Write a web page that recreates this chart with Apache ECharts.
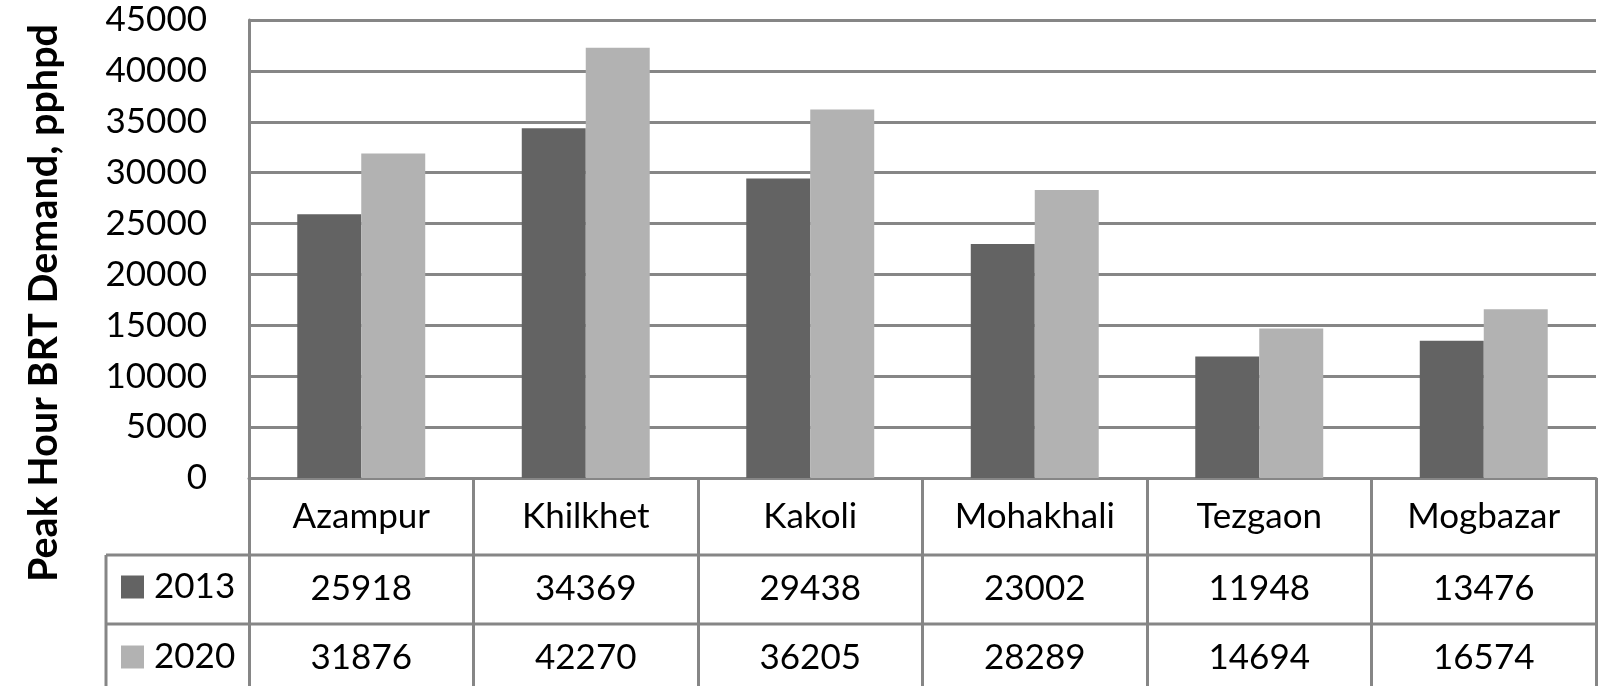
<!DOCTYPE html>
<html>
<head>
<meta charset="utf-8">
<title>Peak Hour BRT Demand</title>
<script src="https://cdn.jsdelivr.net/npm/echarts@6/dist/echarts.min.js"></script>
<style>
  html, body { margin: 0; padding: 0; background: #fff; }
  #chart { width: 1624px; height: 686px; }
</style>
</head>
<body>
<div id="chart"></div>
<script>
// data
const categories = ['Azampur', 'Khilkhet', 'Kakoli', 'Mohakhali', 'Tezgaon', 'Mogbazar'];
const years = ['2013', '2020'];
const demand2013 = [25918, 34369, 29438, 23002, 11948, 13476];
const demand2020 = [31876, 42270, 36205, 28289, 14694, 16574];
const yMin = 0, yMax = 45000, yStep = 5000;
const yTitle = 'Peak Hour BRT Demand, pphpd';

const FONT = 'Lato';
const LINE = '#868686';
const colors = ['#636363', '#b2b2b2'];

// data table layout (below the plot)
const tableLeft = 106;
const rowLines = [555, 624];      // top of 2013 row, top of 2020 row
const rowCenters = [589, 658];

const chart = echarts.init(document.getElementById('chart'));

chart.setOption({
  animation: false,
  textStyle: { fontFamily: FONT },
  grid: { left: 249, right: 28, top: 20, bottom: 208 },
  legend: {
    orient: 'vertical',
    left: 121,
    top: 567,
    padding: 0,
    itemGap: 30,
    itemWidth: 23,
    itemHeight: 23,
    icon: 'rect',
    data: years,
    textStyle: { fontFamily: FONT, fontSize: 35, lineHeight: 40, color: '#000', padding: [0, 0, 0, 5] }
  },
  xAxis: {
    type: 'category',
    data: categories,
    axisLine: { lineStyle: { color: LINE, width: 3 } },
    axisTick: { show: true, interval: 0, length: 210, lineStyle: { color: LINE, width: 3 } },
    axisLabel: { interval: 0, margin: 19, fontSize: 35, lineHeight: 40, color: '#000', fontFamily: FONT }
  },
  yAxis: {
    type: 'value',
    min: yMin,
    max: yMax,
    interval: yStep,
    axisLine: { show: true, lineStyle: { color: LINE, width: 3 } },
    axisTick: { show: false },
    splitLine: { lineStyle: { color: LINE, width: 3 } },
    axisLabel: {
      margin: 42, fontSize: 35, color: '#000', fontFamily: FONT,
      formatter: function (v) { return String(v); }
    }
  },
  series: [
    { name: years[0], type: 'bar', data: demand2013, itemStyle: { color: colors[0] }, barWidth: '28.5%', barGap: '0%' },
    { name: years[1], type: 'bar', data: demand2020, itemStyle: { color: colors[1] }, barWidth: '28.5%', barGap: '0%' }
  ]
});

// table lines, table values and the axis title
function drawTable () {
  const gridRect = chart.getModel().getComponent('grid', 0).coordinateSystem.getRect();
  const xEnd = gridRect.x + gridRect.width;
  const els = [];

  rowLines.forEach(function (y) {
    els.push({ type: 'line', shape: { x1: tableLeft, y1: y, x2: xEnd, y2: y }, style: { stroke: LINE, lineWidth: 3 } });
  });
  els.push({ type: 'line', shape: { x1: tableLeft, y1: rowLines[0], x2: tableLeft, y2: 700 }, style: { stroke: LINE, lineWidth: 3 } });

  [demand2013, demand2020].forEach(function (vals, r) {
    vals.forEach(function (v, i) {
      const x = chart.convertToPixel({ xAxisIndex: 0 }, categories[i]);
      els.push({
        type: 'text', x: x, y: rowCenters[r],
        style: { text: String(v), font: '35px ' + FONT, fill: '#000', align: 'center', verticalAlign: 'middle' }
      });
    });
  });

  els.push({
    type: 'text', x: 44, y: 303, rotation: Math.PI / 2,
    style: { text: yTitle, font: 'bold 39.5px ' + FONT, fill: '#000', align: 'center', verticalAlign: 'middle' }
  });

  chart.setOption({ graphic: els });
}
drawTable();
</script>
</body>
</html>
